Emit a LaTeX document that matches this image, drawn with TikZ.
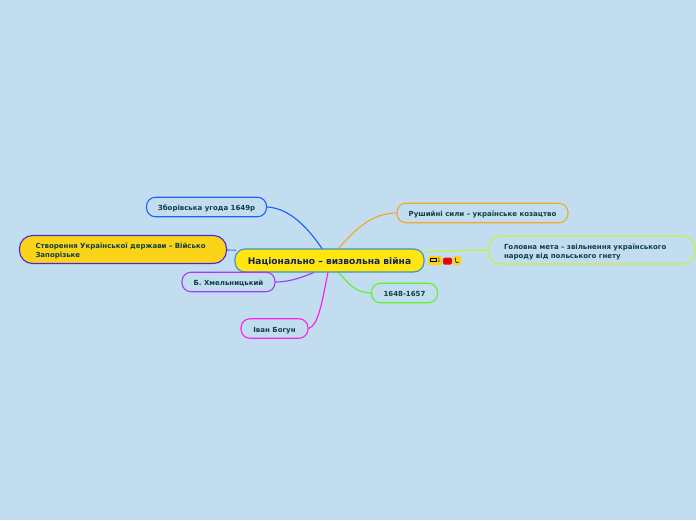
\documentclass[tikz,border=0pt]{standalone}
\usepackage{fontspec}
\setmainfont{DejaVu Sans}
\usetikzlibrary{backgrounds}
\definecolor{bg}{HTML}{C2DDF0}
\definecolor{ink}{HTML}{0E3F44}
\definecolor{cblue}{HTML}{1E63F5}
\definecolor{cindigo}{HTML}{4A28D8}
\definecolor{clink}{HTML}{6F6CF0}
\definecolor{cviolet}{HTML}{A83CF5}
\definecolor{cmag}{HTML}{FA22E6}
\definecolor{corange}{HTML}{F5A62E}
\definecolor{clime}{HTML}{C6F52E}
\definecolor{cgreen}{HTML}{5FF02E}
\definecolor{cyel}{HTML}{FFE60F}
\definecolor{cgold}{HTML}{FBD318}
\definecolor{cedge}{HTML}{3F93BE}
\definecolor{cnavy}{HTML}{14205A}
\newcommand{\firstline}{\rule{0pt}{9pt}}
\tikzset{
  x=1pt,y=-1pt,
  leafbase/.style={draw=#1,line width=1.1pt,rounded corners=9pt,minimum height=19.5pt,inner sep=0pt,font=\fontsize{7}{9}\selectfont\bfseries,text=ink},
  leaf/.style={leafbase=#1,text height=7.5pt,text depth=0.3pt},
  wideleaf/.style={leafbase=#1,minimum width=207pt,minimum height=28pt,rounded corners=13pt,text width=175pt,align=left},
  link/.style={draw=#1,line width=1.15pt},
  badge/.style={fill=#1,rounded corners=1.5pt,draw=none,inner sep=0pt}
}
\begin{document}
\begin{tikzpicture}
\path[use as bounding box] (0,0) rectangle (696,520);
\node[draw=cedge,fill=cyel,line width=1.1pt,rounded corners=10pt,minimum width=189pt,minimum height=23pt,inner sep=0pt,font=\fontsize{9.1}{11}\selectfont\bfseries,text=cnavy,text height=9pt,text depth=0.4pt] (c) at (329.5,260.5) {Національно – визвольна війна};
\node[leaf=cblue,minimum width=120pt] (a) at (206.5,207) {Зборівська угода 1649р};
\node[wideleaf=cindigo,fill=cgold] (b) at (123,249.5) {\firstline Створення Української держави – Військо\\Запорізьке};
\node[leaf=cviolet,minimum width=93pt] (d) at (228.5,282) {Б. Хмельницький};
\node[leaf=cmag,minimum width=67pt] (e) at (274.5,328.5) {Іван Богун};
\node[leaf=corange,minimum width=171pt] (f) at (482.5,213) {Рушийні сили – українське козацтво};
\node[wideleaf=clime] (g) at (591.5,250) {\firstline Головна мета – звільнення українського\\народу від польського гнету};
\node[leaf=cgreen,minimum width=66pt] (h) at (404.5,293) {1648-1657};
\coordinate (ca) at (323,250);
\coordinate (cb) at (236,250.2);
\coordinate (cd) at (315,272);
\coordinate (ce) at (328,272);
\coordinate (cf) at (338,249);
\coordinate (cg) at (424,252);
\coordinate (ch) at (337,271);
\coordinate (bout) at (226,250);
\begin{scope}[on background layer]
\fill[bg] (0,0) rectangle (696,520);
\draw[link=cblue] (a.east) .. controls (290,208) and (309,229) .. (ca);
\draw[link=clink] (bout) -- (cb);
\draw[link=cviolet] (d.east) .. controls (290,282) and (303,277) .. (cd);
\draw[link=cmag] (e.east) .. controls (318,326) and (322,303) .. (ce);
\draw[link=corange] (f.west) .. controls (370,213) and (352,233) .. (cf);
\draw[link=clime] (g.west) .. controls (465,250) and (445,251) .. (cg);
\draw[link=cgreen] (h.west) .. controls (354,293) and (347,281) .. (ch);
\end{scope}
\node[badge=cgold,minimum width=14pt,minimum height=9pt] (i1) at (435,260.5) {};
\node[draw=black,line width=0.8pt,minimum width=6pt,minimum height=3.5pt,inner sep=0pt] (i1a) at (433,260) {};
\node[font=\fontsize{6}{6}\selectfont,text=black!70,inner sep=0pt] (i1b) at (439,260.5) {1};
\node[badge=red,minimum width=9pt,minimum height=7pt] (i2) at (447.5,261) {};
\node[fill=black!35!red,rounded corners=1pt,minimum width=3.5pt,minimum height=2.5pt,inner sep=0pt] (i2a) at (447.5,261) {};
\node[badge=cgold,minimum width=8pt,minimum height=9pt] (i3) at (457,260.5) {};
\draw[black!80,line width=0.9pt,line cap=round] (455.5,258) -- (455.5,261) -- (456.5,262.5) -- (458.5,262.5);
\end{tikzpicture}
\end{document}
